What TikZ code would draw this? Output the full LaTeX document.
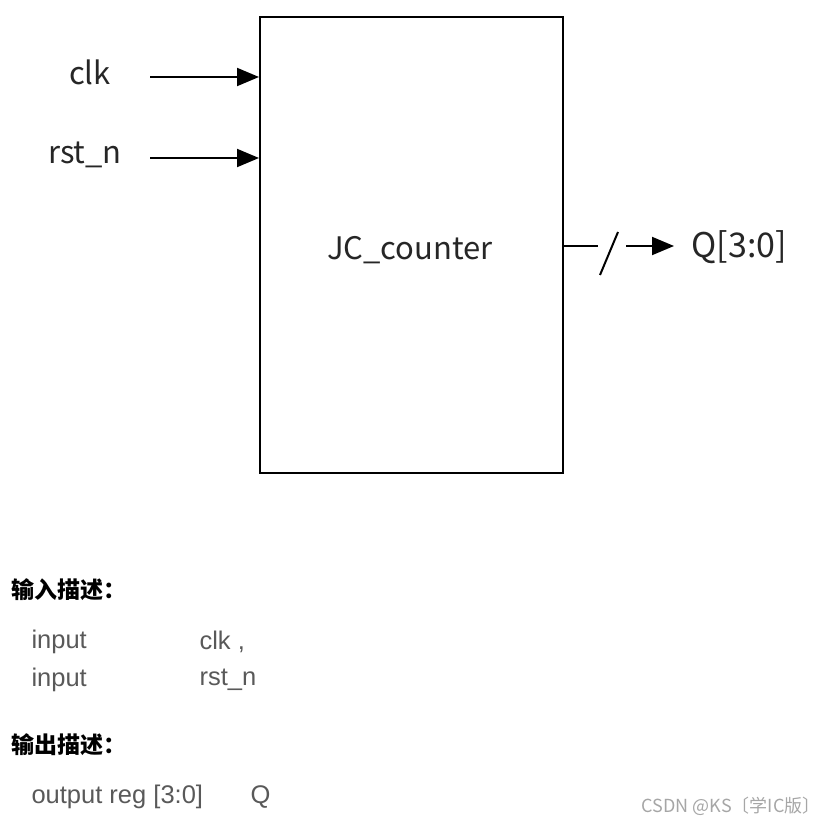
\documentclass[tikz,border=0pt]{standalone}
\usepackage{fontspec}
\setmainfont{Liberation Sans}
\newfontfamily\cjk{Noto Sans CJK SC}
\usetikzlibrary{arrows.meta}
\begin{document}
\begin{tikzpicture}[x=1pt,y=-1pt,
  wire/.style={line width=2pt,-{Triangle[length=22pt,width=18pt]}},
  lbl/.style={font=\cjk\fontsize{31}{34}\selectfont,text=black!85},
  desc/.style={font=\fontsize{25.5}{28}\selectfont,text=black!65,anchor=west},
  head/.style={font=\cjk\bfseries\fontsize{23}{26}\selectfont,anchor=west}]
\useasboundingbox (0,0) rectangle (834,826);
\node[draw,line width=2pt,minimum width=303pt,minimum height=456pt,inner sep=0pt] (box) at (411.5,245) {};
\node[lbl] at (410,250) {JC\_counter};
\node[lbl] (clk) at (90,72) {clk};
\node[lbl] (rst) at (85,155) {rst\_n};
\coordinate (c1) at (150,77); \coordinate (c2) at (150,158);
\draw[wire] (c1) -- (c1 -| box.west);
\draw[wire] (c2) -- (c2 -| box.west);
\coordinate (o1) at (598,246);
\draw[line width=2pt] (box.east |- o1) -- (o1);
\draw[line width=2pt] (600,275) -- (618,232);
\coordinate (o2) at (626,246);
\node[lbl,anchor=west,font=\cjk\fontsize{34}{38}\selectfont] (q) at (688,247) {Q[3:0]};
\draw[wire] (o2) -- (674,246);
\node[head] (h1) at (8,590) {输入描述：};
\node[desc] (i1) at (28,642) {input};
\node[desc] (i1b) at (196,642) {clk ,};
\node[desc] (i2) at (28,680) {input};
\node[desc] (i2b) at (196,680) {rst\_n};
\node[head] (h2) at (8,745) {输出描述：};
\node[desc] (o) at (28,797) {output reg [3:0]};
\node[desc] (oq) at (247,797) {Q};
\node[font=\cjk\fontsize{18}{20}\selectfont,text=black!35,anchor=east] (wm) at (824,806) {CSDN @KS〔学IC版〕};
\end{tikzpicture}
\end{document}
